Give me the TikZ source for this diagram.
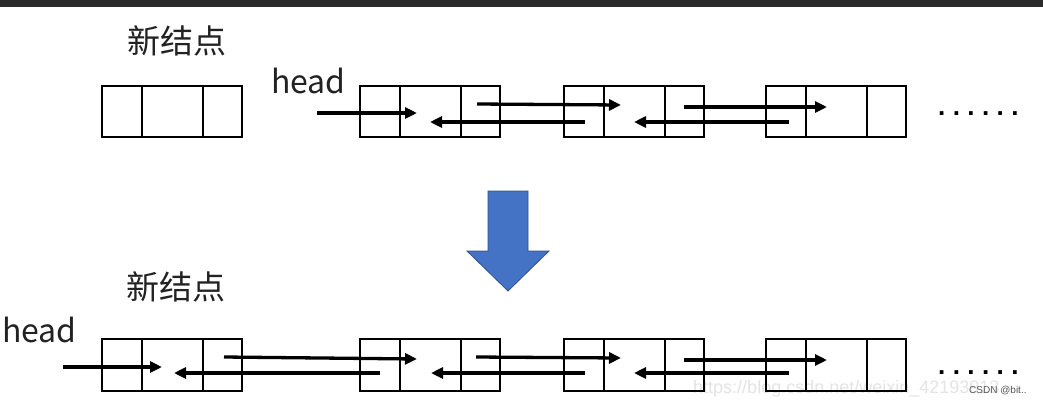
\documentclass[tikz,border=0pt]{standalone}
\usepackage{fontspec}
\newfontfamily\cjkfont{Noto Sans CJK SC}
\newfontfamily\arialfont{Liberation Sans}
\usetikzlibrary{arrows.meta,calc}
\definecolor{barcol}{HTML}{2B2B2B}
\definecolor{bluefill}{HTML}{4472C4}
\definecolor{blueedge}{HTML}{2F528F}
\definecolor{wmark}{HTML}{E4E4E4}
\definecolor{csdncol}{HTML}{555555}
\definecolor{labelcol}{HTML}{222222}
\newcommand\mklist[4]{%
  \node[cell, minimum width=40pt, minimum height=#4] (#1a) at (#2,#3) {};
  \node[cell, minimum width=61pt, minimum height=#4] (#1b) at (#1a.north east) {};
  \node[cell, minimum width=39pt, minimum height=#4] (#1c) at (#1b.north east) {};
}
\begin{document}
\begin{tikzpicture}[x=1pt, y=-1pt,
  cell/.style={draw, line width=2pt, inner sep=0pt, outer sep=0pt, anchor=north west},
  link/.style={line width=3.3pt, -{Triangle[length=12pt,width=11pt]}},
  cjklabel/.style={inner sep=0pt, text=labelcol, font=\cjkfont\fontsize{33}{33}\selectfont},
  headlabel/.style={inner sep=0pt, anchor=base west, text=labelcol, font=\cjkfont\fontsize{32}{32}\selectfont},
  dotsstyle/.style={inner sep=0pt, anchor=base west, font=\arialfont\bfseries\fontsize{26}{26}\selectfont},
  bigarrow/.style={fill=bluefill, draw=blueedge, line width=0.8pt, line join=miter}
]
\useasboundingbox (0,0) rectangle (1043,405);
\fill[white] (0,0) rectangle (1043,405);
\fill[barcol] (0,0) rectangle (1043,7);

% watermark (behind)
\node[inner sep=0pt, anchor=base west, font=\arialfont\fontsize{18}{18}\selectfont, text=wmark] (wm) at (693,393) {https://blog.csdn.net/weixin\_42193913};

% ---------- top row ----------
\node[cjklabel] (tnewlbl) at (177,41) {新结点};
\node[headlabel] (thead) at (271,93) {head};
\mklist{tn}{102}{86}{51pt}
\mklist{tA}{360}{86}{51pt}
\mklist{tB}{564}{86}{51pt}
\mklist{tC}{766}{86}{51pt}
\node[dotsstyle] (tdots) at (938,115) {.\kern7.4pt.\kern7.4pt.\kern7.4pt.\kern7.4pt.\kern7.4pt.};

\coordinate (thstart) at (317,113);
\draw[link] (thstart) -- ($(tAb.north west)+(17,27)$);
\draw[link] ($(tAc.north west)+(16,18)$) -- ($(tBb.north west)+(17,19)$);
\draw[link] ($(tBa.north west)+(21,36)$) -- ($(tAb.north west)+(30,36)$);
\draw[link] ($(tBc.north west)+(19,21)$) -- ($(tCb.north west)+(21,21)$);
\draw[link] ($(tCa.north west)+(23,36)$) -- ($(tBb.north west)+(30,36)$);

% ---------- big arrow ----------
\draw[bigarrow] (488,191) -- (528,191) -- (528,251) -- (549,251) -- (508,291) -- (467,251) -- (488,251) -- cycle;

% ---------- bottom row ----------
\node[cjklabel] (bnewlbl) at (176,287) {新结点};
\node[headlabel] (bhead) at (2,342) {head};
\mklist{bn}{102}{339}{52pt}
\mklist{bA}{360}{339}{52pt}
\mklist{bB}{564}{339}{52pt}
\mklist{bC}{766}{339}{52pt}
\node[dotsstyle] (bdots) at (938,374) {.\kern7.4pt.\kern7.4pt.\kern7.4pt.\kern7.4pt.\kern7.4pt.};

\coordinate (bhstart) at (63,367);
\draw[link] (bhstart) -- ($(bnb.north west)+(20,28)$);
\draw[link] ($(bnc.north west)+(21,18)$) -- ($(bAb.north west)+(17,20)$);
\draw[link] ($(bAa.north west)+(20,34)$) -- ($(bnb.north west)+(32,34)$);
\draw[link] ($(bAc.north west)+(15,18)$) -- ($(bBb.north west)+(17,19)$);
\draw[link] ($(bBa.north west)+(21,34)$) -- ($(bAb.north west)+(31,34)$);
\draw[link] ($(bBc.north west)+(19,21)$) -- ($(bCb.north west)+(21,21)$);
\draw[link] ($(bCa.north west)+(23,34)$) -- ($(bBb.north west)+(30,34)$);

\node[inner sep=0pt, anchor=west, font=\arialfont\fontsize{10}{10}\selectfont, text=csdncol] (csdn) at (969,391) {CSDN @bit..};
\end{tikzpicture}
\end{document}
